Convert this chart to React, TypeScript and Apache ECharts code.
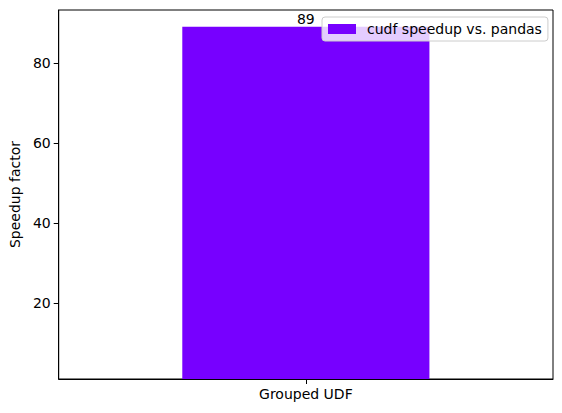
import React, { useEffect, useRef } from "react";
import * as echarts from "echarts";

const categories = ["Grouped UDF"];
const speedups = [89];
const yTicks = [20, 40, 60, 80];
const seriesName = "cudf speedup vs. pandas";

export default function App() {
  const ref = useRef<HTMLDivElement>(null);
  useEffect(() => {
    if (!ref.current) return;
    const chart = echarts.init(ref.current, null, { renderer: "svg" });
    const font = "DejaVu Sans";
    chart.setOption({
      animation: false,
      backgroundColor: "#ffffff",
      textStyle: { fontFamily: font },
      grid: {
        left: 57.5,
        right: 9,
        top: 10,
        bottom: 34,
        show: true,
        borderColor: "#000",
        borderWidth: 1,
        backgroundColor: "transparent",
      },
      legend: {
        data: [seriesName],
        left: 322,
        top: 17,
        icon: "rect",
        itemWidth: 28,
        itemHeight: 10,
        itemGap: 0,
        padding: [5, 6, 5, 6],
        backgroundColor: "rgba(255,255,255,0.8)",
        borderColor: "#cccccc",
        borderWidth: 1,
        borderRadius: 3,
        textStyle: { fontFamily: font, fontSize: 14, color: "#000", padding: [0, 0, 0, 6] },
      },
      xAxis: {
        type: "category",
        data: categories,
        axisLine: { show: true, lineStyle: { color: "#000", width: 1 } },
        axisTick: { show: true, alignWithLabel: true, length: 5, lineStyle: { color: "#000" } },
        axisLabel: { color: "#000", fontSize: 14, fontFamily: font, margin: 8 },
        splitLine: { show: false },
      },
      yAxis: {
        type: "value",
        min: 1.05,
        max: 93.2,
        name: "Speedup factor",
        nameLocation: "middle",
        nameRotate: 90,
        nameGap: 33,
        nameTextStyle: { color: "#000", fontSize: 14, fontFamily: font },
        axisLine: { show: true, lineStyle: { color: "#000", width: 1 } },
        axisTick: { show: true, length: 5, lineStyle: { color: "#000" }, customValues: yTicks },
        axisLabel: { color: "#000", fontSize: 14, fontFamily: font, margin: 8, customValues: yTicks },
        splitLine: { show: false },
      },
      series: [
        {
          name: seriesName,
          type: "bar",
          data: speedups,
          barWidth: "50%",
          itemStyle: { color: "#7700ff" },
          label: {
            show: true,
            position: "top",
            distance: 1,
            color: "#000",
            fontSize: 14,
            fontFamily: font,
          },
          z: 1,
        },
      ],
    });
    return () => chart.dispose();
  }, []);
  return (
    <div
      ref={ref}
      style={{ position: "fixed", left: 0, top: 0, width: 562, height: 413 }}
    />
  );
}
